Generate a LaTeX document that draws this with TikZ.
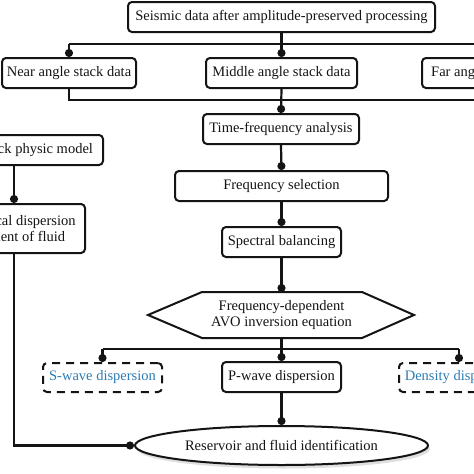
\documentclass[tikz,border=0pt]{standalone}
\usepackage{fontspec}
\setmainfont{Liberation Serif}
\usetikzlibrary{arrows.meta,shapes.geometric}
\definecolor{txtblue}{RGB}{45,125,180}
\definecolor{ink}{RGB}{20,20,20}
\begin{document}
\begin{tikzpicture}[x=1pt,y=-1pt,
  every node/.style={font=\fontsize{14.5}{16.5}\selectfont, text=ink, inner sep=0pt},
  box/.style={draw=ink, line width=2pt, rounded corners=4pt, align=center},
  dbox/.style={box, dashed, dash pattern=on 8pt off 6pt, text=txtblue},
  conn/.style={draw=ink, line width=2.2pt, -{Circle[length=8pt,width=8pt]}},
  plain/.style={draw=ink, line width=2.2pt}]
\useasboundingbox (0,0) rectangle (474,474);
\clip (0,0) rectangle (474,474);
\fill[white] (0,0) rectangle (474,474);
% nodes
\node[box, minimum width=307, minimum height=30] (top) at (281.5,17) {Seismic data after amplitude-preserved processing};
\node[box, minimum width=134, minimum height=30] (near) at (69,73) {Near angle stack data};
\node[box, minimum width=151, minimum height=30] (mid) at (281.5,73) {Middle angle stack data};
\node[box, minimum width=134, minimum height=30] (far) at (489,73) {Far angle stack data};
\node[box, minimum width=156, minimum height=30] (tf) at (281,129) {Time-frequency analysis};
\node[box, minimum width=132, minimum height=30] (rock) at (37,150) {Rock physic model};
\node[box, minimum width=148, minimum height=49] (theo) at (11,228.5) {Theoretical dispersion\\coefficient of fluid};
\node[box, minimum width=213, minimum height=30] (fs) at (281.5,186) {Frequency selection};
\node[box, minimum width=119, minimum height=30] (sb) at (281.5,242) {Spectral balancing};
\node[align=center] (hex) at (281.5,315) {Frequency-dependent\\AVO inversion equation};
\coordinate (hexT) at (281.5,292);
\coordinate (hexB) at (281.5,338);
\draw[draw=ink, line width=2pt, line join=miter] (148,315) -- (202,292) -- (362,292) -- (414,315) -- (362,338) -- (202,338) -- cycle;
\node[dbox, minimum width=119, minimum height=29] (sw) at (102.5,377.5) {S-wave dispersion};
\node[box, minimum width=119, minimum height=30] (pw) at (281.5,377) {P-wave dispersion};
\node[dbox, minimum width=120, minimum height=29] (dens) at (459,377.5) {Density dispersion};
\fill[gray!25] (283.5,449) ellipse (146.5 and 19.5);
\node[ellipse, draw=ink, line width=2pt, fill=white, minimum width=293, minimum height=39] (ell) at (281.5,445.5) {Reservoir and fluid identification};
% connectors
\coordinate (j1) at (281.5,44);
\coordinate (j2) at (281.5,100);
\coordinate (j3) at (281.5,349);
\draw[plain] (top.south) -- (j1);
\draw[plain] (near.north |- j1) -- (far.north |- j1);
\draw[conn] (near.north |- j1) -- (near.north);
\draw[conn] (j1) -- (mid.north);
\draw[conn] (far.north |- j1) -- (far.north);
\draw[plain] (near.south) -- (near.south |- j2) -- (far.south |- j2) -- (far.south);
\draw[conn] (mid.south) -- (tf.north);
\draw[conn] (tf.south) -- (fs.north);
\draw[conn] (fs.south) -- (sb.north);
\draw[conn] (sb.south) -- (hexT);
\draw[plain] (hexB) -- (j3);
\draw[plain] (sw.north |- j3) -- (dens.north |- j3);
\draw[conn] (sw.north |- j3) -- (sw.north);
\draw[conn] (j3) -- (pw.north);
\draw[conn] (dens.north |- j3) -- (dens.north);
\draw[conn] (pw.south) -- (ell.north);
\draw[conn] (rock.south -| 14,0) -- (theo.north -| 14,0);
\draw[conn] (theo.south -| 14,0) -- (14,445.5) -- (ell.west);
\end{tikzpicture}
\end{document}
